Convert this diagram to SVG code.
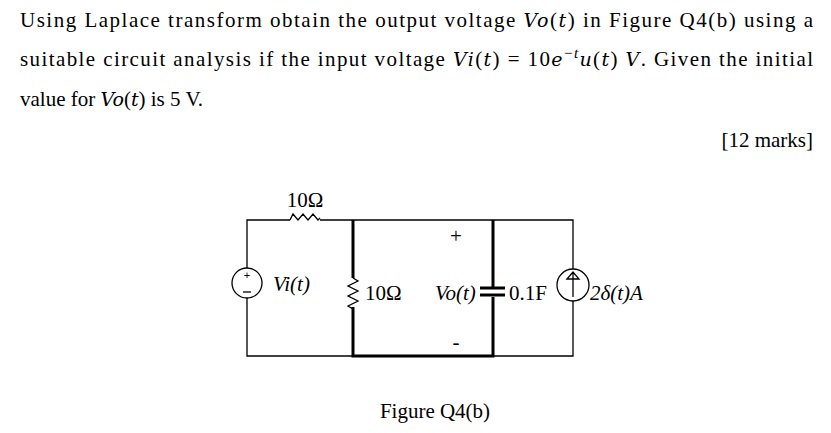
<svg xmlns="http://www.w3.org/2000/svg" width="831" height="433" viewBox="0 0 831 433">
<style>
.t{font-family:"Liberation Serif",serif;font-size:21px;fill:#000}
.m{font-family:"DejaVu Serif",serif;font-style:italic;font-size:19px}
.l{font-family:"Liberation Serif",serif;font-size:21px}
.i{font-style:italic}
.w{fill:none;stroke:#000;stroke-width:1.3}
.k{fill:none;stroke:#000;stroke-width:3}
</style>
<rect width="831" height="433" fill="#fff"/>
<text class="t" x="20" y="27" textLength="793" lengthAdjust="spacing">Using Laplace transform obtain the output voltage <tspan class="m">Vo</tspan>(<tspan class="m">t</tspan>) in Figure Q4(b) using a</text>
<text class="t" x="20" y="66" textLength="793" lengthAdjust="spacing">suitable circuit analysis if the input voltage <tspan class="m">Vi</tspan>(<tspan class="m">t</tspan>) = 10<tspan class="m">e</tspan><tspan dy="-8" font-size="15">−<tspan class="i">t</tspan></tspan><tspan dy="8" class="m">u</tspan>(<tspan class="m">t</tspan>) <tspan class="m">V</tspan>. Given the initial</text>
<text class="t" x="20" y="106">value for <tspan class="m">Vo</tspan>(<tspan class="m">t</tspan>) is 5 V.</text>
<text class="t" x="813" y="147" text-anchor="end">[12 marks]</text>
<g id="connectors">
<path class="w" d="M247 268V220H290M320 220H353H573V269M247 298V356H353M573 301V356H493"/>
<path class="k" d="M353 220V278M353 307V356H493V297M493 220V287"/>
</g>
<g id="r1"><path class="w" d="M290 220l3-6 5 6 5-6 5 6 5-6 5 6 2-2"/><text class="l" x="305" y="207" text-anchor="middle">10Ω</text></g>
<g id="vs"><circle class="w" cx="247" cy="283" r="15"/><text x="247" y="279" font-family="Liberation Sans,sans-serif" font-size="11" text-anchor="middle">+</text><path class="w" d="M243 292h8"/><text class="l i" x="273" y="291">Vi(t)</text></g>
<g id="r2"><path class="w" d="M353 278l5 3-10 5 10 5-10 5 10 5-10 5 5 3"/><text class="l" x="365" y="300">10Ω</text></g>
<g id="cap"><path class="k" d="M480 288h25M480 295h25"/><text class="l i" x="435" y="300">Vo(t)</text><text class="l" x="509" y="300">0.1F</text><text class="l" x="456" y="243" text-anchor="middle">+</text><text class="l" x="456" y="349" text-anchor="middle">-</text></g>
<g id="cs"><circle class="w" cx="573" cy="285" r="16"/><path class="w" d="M573 297V272M567 279L573 272L579 279Z"/><text class="l i" x="590" y="300">2δ(t)A</text></g>
<text class="l" x="435" y="418" text-anchor="middle">Figure Q4(b)</text>
</svg>
